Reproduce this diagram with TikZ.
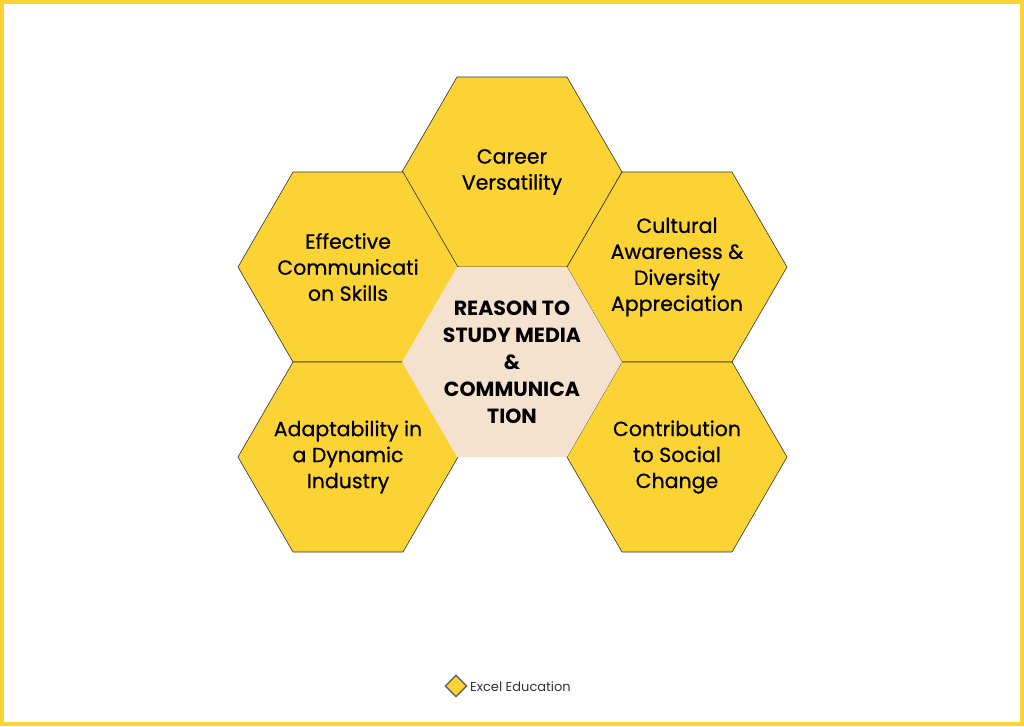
\documentclass[tikz,border=0pt]{standalone}
\usepackage{fontspec}
\setmainfont{Poppins}
\newfontfamily\med[FakeBold=0.6]{Poppins}
\definecolor{hy}{HTML}{FBD334}
\definecolor{hc}{HTML}{F4E2CE}
\definecolor{fr}{HTML}{FBD334}
\newcommand\myhex[4]{%
 \path[#4] ($(#1)+(110,0)$) -- ($(#1)+(55,95)$) -- ($(#1)+(-55,95)$) -- ($(#1)+(-110,0)$) -- ($(#1)+(-55,-95)$) -- ($(#1)+(55,-95)$) -- cycle;
 \node[#3] at (#1) {#2};}
\usetikzlibrary{calc}
\begin{document}
\begin{tikzpicture}[x=1pt,y=-1pt,
 hexs/.style={fill=hy,draw=black!80,line width=0.6pt},
 hexc/.style={fill=hc},
 txt/.style={align=center,font=\med\fontsize{20.5}{26}\selectfont},
 ctxt/.style={align=center,font=\bfseries\fontsize{20.5}{27}\selectfont}]
\useasboundingbox (0,0) rectangle (1024,726);
\fill[white] (0,0) rectangle (1024,726);
\draw[fr,line width=3.5pt] (2,2) rectangle (1022,724);
\coordinate (top) at (512,172);
\coordinate (ul) at (348,267);
\coordinate (ur) at (677,267);
\coordinate (ll) at (348,457);
\coordinate (lr) at (677,457);
\coordinate (c) at (512,362);
\myhex{top}{Career\\Versatility}{txt}{hexs}
\myhex{ul}{Effective\\Communicati\\on Skills}{txt}{hexs}
\myhex{ur}{Cultural\\Awareness \&\\Diversity\\Appreciation}{txt}{hexs}
\myhex{ll}{Adaptability in\\a Dynamic\\Industry}{txt}{hexs}
\myhex{lr}{Contribution\\to Social\\Change}{txt}{hexs}
\myhex{c}{REASON TO\\STUDY MEDIA\\\&\\COMMUNICA\\TION}{ctxt}{hexc}
\node[draw=black!60,fill=hy,line width=1.5pt,rotate=45,minimum size=15pt,inner sep=0pt] (logo) at (456,686) {};
\node[anchor=west,font=\fontsize{13}{15}\selectfont,text=black!80,inner sep=0pt] (lt) at (470,687) {Excel Education};
\end{tikzpicture}
\end{document}
